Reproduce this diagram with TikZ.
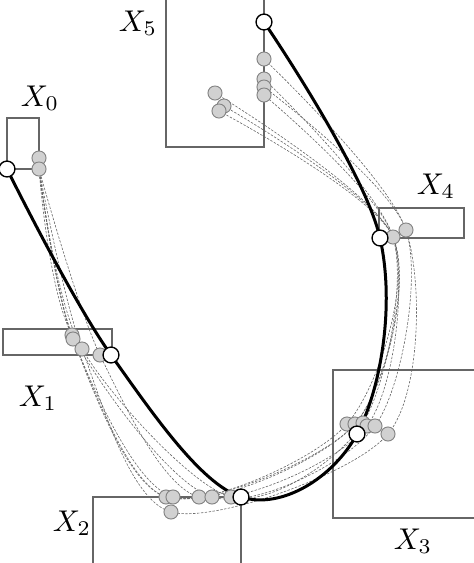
\documentclass[tikz,border=0pt]{standalone}
\usepackage{amsmath}
\usepackage{tikz}

\begin{document}
\begin{tikzpicture}[
   x=0.3333pt, y=-0.3333pt,
   region/.style={draw=black!60, line width=0.35pt},
   sample/.style={draw=black!60, line width=0.2pt, dash pattern=on 0.8pt off 0.5pt},
   mainpath/.style={line width=1pt},
   knot/.style={circle, draw, fill=white, line width=0.45pt, minimum size=5.3pt,
                inner sep=0pt},
   trial/.style={circle, draw=black!50, fill=black!18, line width=0.3pt,
                 minimum size=4.7pt, inner sep=0pt}]
  \useasboundingbox (0,0) rectangle (474,563);

  \draw[region] (7,118) rectangle (39,169);
  \draw[region] (3,329) rectangle (112,355);
  \draw[region] (241,575) |- (93,497) -- (93,575);
  \draw[region] (485,370) -| (333,518) -- (485,518);
  \draw[region] (379,208) rectangle (464,238);
  \draw[region] (166,-10) |- (264,147) -- (264,-10);

  \node (l0) at (40,98) {$X_0$};
  \node (l1) at (38,398) {$X_1$};
  \node (l2) at (72,523) {$X_2$};
  \node (l3) at (413,541) {$X_3$};
  \node (l4) at (436,186) {$X_4$};
  \node (l5) at (138,23) {$X_5$};

  \coordinate (a0) at (7,169);
  \coordinate (a1) at (111,355);
  \coordinate (a2) at (241,497);
  \coordinate (a3) at (357,434);
  \coordinate (a4) at (380,238);
  \coordinate (a5) at (264,22);

  \coordinate (b0) at (39,158);  \coordinate (c0) at (39,169);
  \coordinate (b1) at (72,335);  \coordinate (c1) at (73,339);
  \coordinate (d1) at (82,349);  \coordinate (e1) at (100,355);
  \coordinate (b2) at (166,497); \coordinate (c2) at (173,497);
  \coordinate (d2) at (171,512); \coordinate (e2) at (199,497);
  \coordinate (f2) at (212,497); \coordinate (g2) at (231,497);
  \coordinate (b3) at (347,424); \coordinate (c3) at (355,424);
  \coordinate (d3) at (363,423); \coordinate (e3) at (367,426);
  \coordinate (f3) at (375,426); \coordinate (g3) at (388,434);
  \coordinate (b4) at (393,237); \coordinate (c4) at (406,230);
  \coordinate (b5) at (264,59);  \coordinate (c5) at (264,79);
  \coordinate (d5) at (264,87);  \coordinate (e5) at (264,95);
  \coordinate (f5) at (215,93);  \coordinate (g5) at (224,106);
  \coordinate (h5) at (219,111);

  \draw[sample] plot[smooth, tension=0.5] coordinates {(c0) (b1) (b2) (b3) (b4) (f5)};
  \draw[sample] plot[smooth, tension=0.5] coordinates {(c0) (c1) (c2) (c3) (b4) (g5)};
  \draw[sample] plot[smooth, tension=0.5] coordinates {(c0) (d1) (d2) (g3) (c4) (b5)};
  \draw[sample] plot[smooth, tension=0.5] coordinates {(c0) (e1) (e2) (e3) (b4) (c5)};
  \draw[sample] plot[smooth, tension=0.5] coordinates {(c0) (b1) (f2) (f3) (c4) (d5)};
  \draw[sample] plot[smooth, tension=0.5] coordinates {(c0) (d1) (g2) (d3) (b4) (e5)};
  \draw[sample] plot[smooth, tension=0.5] coordinates {(c0) (c1) (b2) (c3) (b4) (h5)};

  \draw[mainpath] plot[smooth, tension=0.6] coordinates {(a0) (a1) (a2) (a3) (a4) (a5)};

  \foreach \p in {b0,c0,b1,c1,d1,e1,b2,c2,d2,e2,f2,g2,b3,c3,d3,e3,f3,g3,
                  b4,c4,b5,c5,d5,e5,f5,g5,h5}
    \node[trial] (t\p) at (\p) {};
  \foreach \p in {a0,a1,a2,a3,a4,a5}
    \node[knot] (k\p) at (\p) {};
\end{tikzpicture}
\end{document}
